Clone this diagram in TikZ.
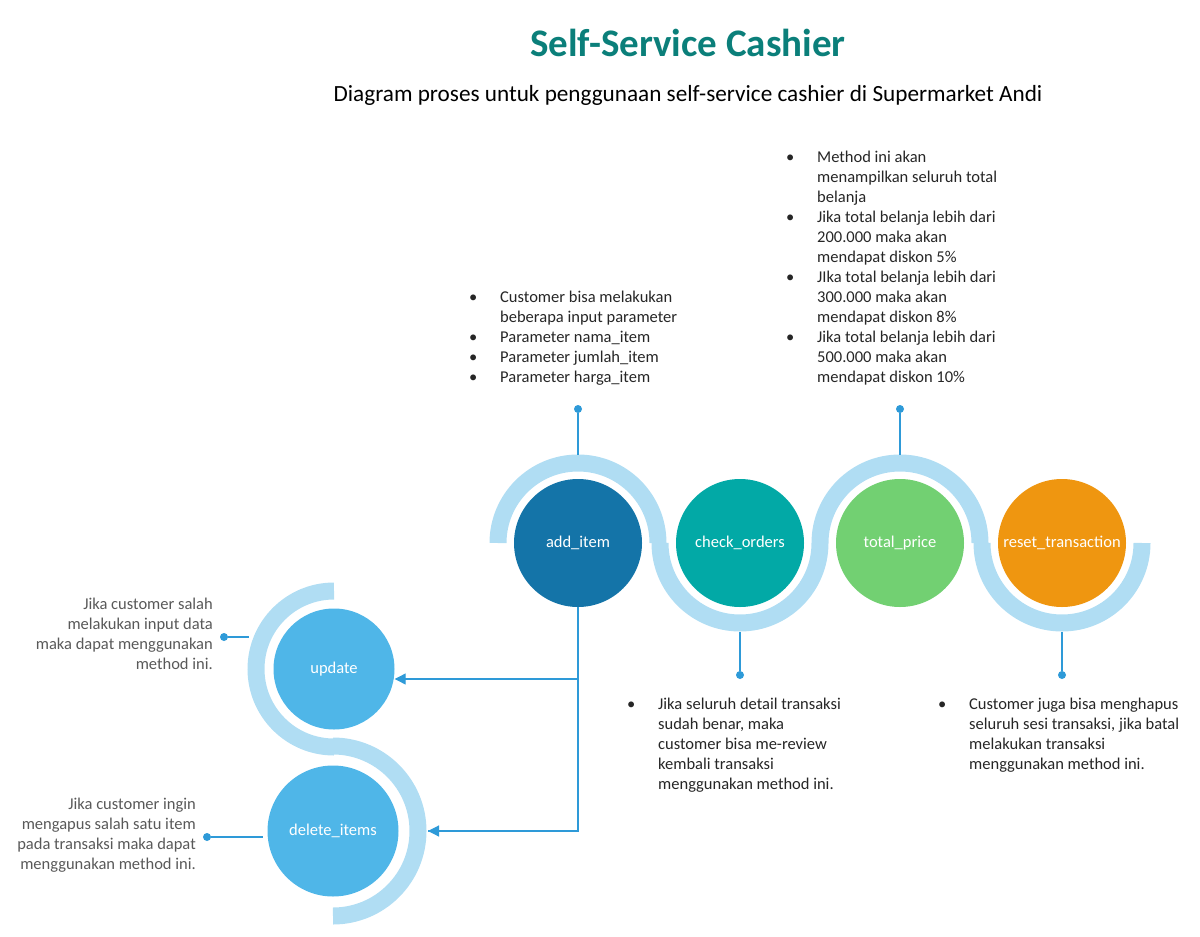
\documentclass[tikz,border=0pt]{standalone}
\usepackage{fontspec}
\setmainfont{Carlito}
\usetikzlibrary{arrows.meta}
\definecolor{cAdd}{HTML}{1474A8}
\definecolor{cChk}{HTML}{02A9A6}
\definecolor{cTot}{HTML}{72D072}
\definecolor{cRes}{HTML}{EF9610}
\definecolor{cUpd}{HTML}{4FB6E8}
\definecolor{cBand}{HTML}{B0DDF3}
\definecolor{cLine}{HTML}{2E9AD8}
\definecolor{cTitle}{HTML}{0B7F7A}
\definecolor{cGray}{HTML}{595959}
\begin{document}
\begin{tikzpicture}[x=1pt,y=-1pt,
  proc/.style={circle,minimum size=#1,inner sep=0pt,text=white,font=\fontsize{16.5}{18}\selectfont},
  band/.style={draw=cBand,line width=17pt},
  conn/.style={draw=cLine,line width=1.2pt},
  pin/.style={circle,fill=cLine,minimum size=8pt,inner sep=0pt},
  note/.style={inner sep=0pt,font=\fontsize{16.5}{20}\selectfont,text=black!85},
  gnote/.style={inner sep=0pt,font=\fontsize{16.5}{20}\selectfont,text=cGray,align=right}]
\useasboundingbox (0,0) rectangle (1200,937);
\node[font=\fontsize{39}{42}\selectfont\bfseries,text=cTitle] (title) at (688,43) {Self-Service Cashier};
\node[font=\fontsize{23.2}{26}\selectfont] (sub) at (688,95) {Diagram proses untuk penggunaan self-service cashier di Supermarket Andi};
% bands
\draw[band] (498,543) arc[start angle=180,end angle=360,radius=80];
\draw[band] (660,543) arc[start angle=180,end angle=0,radius=80];
\draw[band] (820,543) arc[start angle=180,end angle=360,radius=80];
\draw[band] (982,543) arc[start angle=180,end angle=0,radius=80];
\draw[band] (334,591) arc[start angle=270,end angle=90,radius=78];
\draw[band] (333,746) arc[start angle=270,end angle=450,radius=85];
% circles
\node[proc=128pt,fill=cAdd] (add) at (578,543) {add\_item};
\node[proc=128pt,fill=cChk] (chk) at (740,543) {check\_orders};
\node[proc=128pt,fill=cTot] (tot) at (900,543) {total\_price};
\node[proc=128pt,fill=cRes] (res) at (1062,543) {reset\_transaction};
\node[proc=121pt,fill=cUpd] (upd) at (334,669) {update};
\node[proc=131pt,fill=cUpd] (del) at (333,831) {delete\_items};
% connectors
\coordinate (j1) at (578,679);
\coordinate (j2) at (578,831);
\coordinate (delarc) at (428,831);
\draw[conn] (add.south) -- (j2) -- (delarc);
\draw[conn,-{Triangle[length=11pt,width=11pt]}] (j2) -- (delarc);
\draw[conn,-{Triangle[length=11pt,width=11pt]}] (j1) -- (upd.east |- j1);
% pins
\node[pin] (p1) at (578,409) {}; \coordinate (p1e) at (578,455);
\node[pin] (p2) at (900,409) {}; \coordinate (p2e) at (900,455);
\node[pin] (p3) at (740,675) {}; \coordinate (p3e) at (740,632);
\node[pin] (p4) at (1062,675) {}; \coordinate (p4e) at (1062,632);
\node[pin] (p5) at (224,637) {}; \coordinate (p5e) at (249,637);
\node[pin] (p6) at (207,837) {}; \coordinate (p6e) at (263,837);
\foreach \a/\b in {p1/p1e,p2/p2e,p3/p3e,p4/p4e,p5/p5e,p6/p6e}{\draw[conn] (\a) -- (\b);}
% notes
\node[note,anchor=north west] (n1) at (469,288) {\begin{tabular}{@{}p{31pt}@{}l@{}}
\textbullet & Customer bisa melakukan\\ & beberapa input parameter\\
\textbullet & Parameter nama\_item\\ \textbullet & Parameter jumlah\_item\\ \textbullet & Parameter harga\_item\end{tabular}};
\node[note,anchor=north west] (n2) at (786,148) {\begin{tabular}{@{}p{31pt}@{}l@{}}
\textbullet & Method ini akan\\ & menampilkan seluruh total\\ & belanja\\
\textbullet & Jika total belanja lebih dari\\ & 200.000 maka akan\\ & mendapat diskon 5\%\\
\textbullet & JIka total belanja lebih dari\\ & 300.000 maka akan\\ & mendapat diskon 8\%\\
\textbullet & Jika total belanja lebih dari\\ & 500.000 maka akan\\ & mendapat diskon 10\%\end{tabular}};
\node[note,anchor=north west] (n3) at (627,695) {\begin{tabular}{@{}p{31pt}@{}l@{}}
\textbullet & Jika seluruh detail transaksi\\ & sudah benar, maka\\ & customer bisa me-review\\ & kembali transaksi\\ & menggunakan method ini.\end{tabular}};
\node[note,anchor=north west] (n4) at (938,695) {\begin{tabular}{@{}p{31pt}@{}l@{}}
\textbullet & Customer juga bisa menghapus\\ & seluruh sesi transaksi, jika batal\\ & melakukan transaksi\\ & menggunakan method ini.\end{tabular}};
\node[gnote,anchor=north east] (n5) at (213,598) {Jika customer salah\\melakukan input data\\maka dapat menggunakan\\method ini.};
\node[gnote,anchor=north east] (n6) at (196,798) {Jika customer ingin\\mengapus salah satu item\\pada transaksi maka dapat\\menggunakan method ini.};
\end{tikzpicture}
\end{document}
